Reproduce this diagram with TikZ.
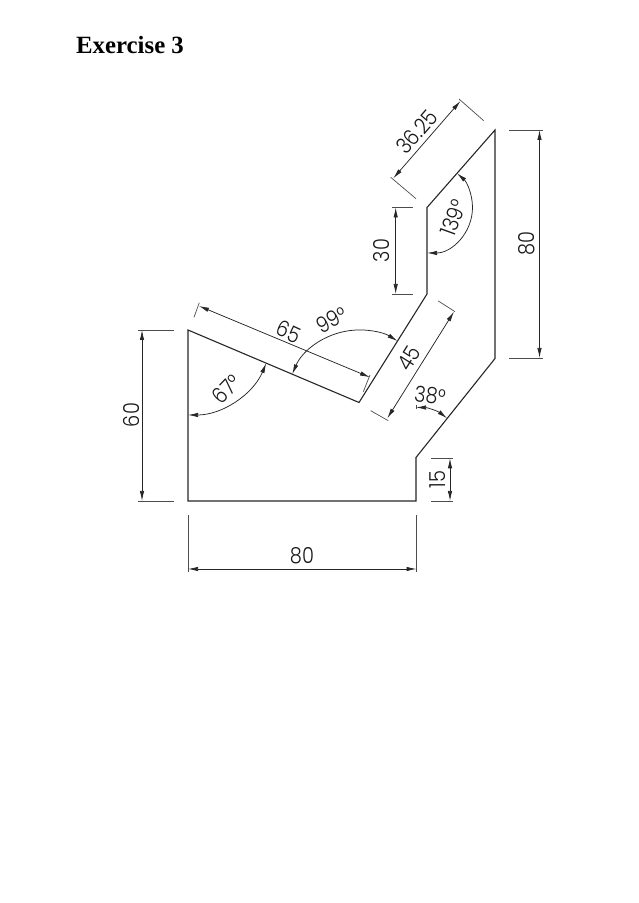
\documentclass[tikz,border=0pt]{standalone}
\usepackage{fontspec}
\setmainfont{Liberation Serif}
\newfontfamily\dimfont{Poppins}[UprightFont=* Light,FakeStretch=0.88]
\usetikzlibrary{calc,arrows.meta}

\begin{document}
\begin{tikzpicture}[x=1pt,y=1pt,
    part/.style={draw=black!85,line width=1.1pt,line join=miter},
    ext/.style={draw=black!70,line width=.7pt},
    dim/.style={draw=black!85,line width=.75pt,{Latex[length=10pt,width=4.4pt]}-{Latex[length=10pt,width=4.4pt]}},
    dimtext/.style={font=\dimfont\fontsize{22}{26}\selectfont,text=black!90,inner sep=0pt}]
    \useasboundingbox (0,0) rectangle (638,903);

    \node[font=\bfseries\fontsize{24.8}{30}\selectfont,anchor=base west,inner sep=0pt] (title) at (76,849.5) {Exercise 3};

    % outline
    \coordinate (a) at (188,573);
    \coordinate (b) at (188,402);
    \coordinate (c) at (416,402);
    \coordinate (d) at (416,445.5);
    \coordinate (e) at (495,544.5);
    \coordinate (f) at (495,773);
    \coordinate (g) at (427,695.5);
    \coordinate (h) at (427,609);
    \coordinate (i) at (359,500.5);
    \draw[part] (a) -- (b) -- (c) -- (d) -- (e) -- (f) -- (g) -- (h) -- (i) -- cycle;

    % height 60
    \coordinate (e1a) at (138,573);
    \coordinate (e1b) at (174,573);
    \coordinate (e2a) at (138,402);
    \coordinate (e2b) at (174,402);
    \coordinate (d1a) at (142,573);
    \coordinate (d1b) at (142,402);
    \draw[ext] (e1a) -- (e1b);
    \draw[ext] (e2a) -- (e2b);
    \draw[dim] (d1a) -- (d1b);
    \node[dimtext,rotate=90] (t60) at (131,488) {60};

    % height 80
    \coordinate (e3a) at (509,773);
    \coordinate (e3b) at (543,773);
    \coordinate (e4a) at (509,545);
    \coordinate (e4b) at (543,545);
    \coordinate (d2a) at (539.5,773);
    \coordinate (d2b) at (539.5,545);
    \draw[ext] (e3a) -- (e3b);
    \draw[ext] (e4a) -- (e4b);
    \draw[dim] (d2a) -- (d2b);
    \node[dimtext,rotate=90] (t80r) at (526.7,659) {80};

    % height 30
    \coordinate (e5a) at (392,695.5);
    \coordinate (e5b) at (413,695.5);
    \coordinate (e6a) at (392,609);
    \coordinate (e6b) at (413,609);
    \coordinate (d3a) at (395.7,695.5);
    \coordinate (d3b) at (395.7,609);
    \draw[ext] (e5a) -- (e5b);
    \draw[ext] (e6a) -- (e6b);
    \draw[dim] (d3a) -- (d3b);
    \node[dimtext,rotate=90] (t30) at (382,652.3) {30};

    % slanted 36.25
    \coordinate (e7a) at (390.7,725.7);
    \coordinate (e7b) at (416,704.3);
    \coordinate (e8a) at (459,804);
    \coordinate (e8b) at (483.7,782.3);
    \coordinate (d4a) at (393.3,724.7);
    \coordinate (d4b) at (460.5,802);
    \draw[ext] (e7a) -- (e7b);
    \draw[ext] (e8a) -- (e8b);
    \draw[dim] (d4a) -- (d4b);
    \node[dimtext,rotate=49] (t36) at (416.7,771.3) {36.25};

    % slanted 65
    \coordinate (e9a) at (199.3,600.3);
    \coordinate (e9b) at (194,585.7);
    \coordinate (e10a) at (370,528);
    \coordinate (e10b) at (363.3,511.3);
    \coordinate (d5a) at (199,597);
    \coordinate (d5b) at (370,525.7);
    \draw[ext] (e9a) -- (e9b);
    \draw[ext] (e10a) -- (e10b);
    \draw[dim] (d5a) -- (d5b);
    \node[dimtext,rotate=-25] (t65) at (289,571.3) {65};

    % slanted 45
    \coordinate (e11a) at (438.3,602);
    \coordinate (e11b) at (455,591.3);
    \coordinate (e12a) at (370.7,492.3);
    \coordinate (e12b) at (388.3,482.3);
    \coordinate (d6a) at (454,591.3);
    \coordinate (d6b) at (387.3,484.7);
    \draw[ext] (e11a) -- (e11b);
    \draw[ext] (e12a) -- (e12b);
    \draw[dim] (d6a) -- (d6b);
    \node[dimtext,rotate=58] (t45) at (409.3,544.7) {45};

    % height 15
    \coordinate (e13a) at (431,444.7);
    \coordinate (e13b) at (453,444.7);
    \coordinate (e14a) at (431,402);
    \coordinate (e14b) at (453,402);
    \coordinate (d7a) at (450,444.7);
    \coordinate (d7b) at (450,402);
    \draw[ext] (e13a) -- (e13b);
    \draw[ext] (e14a) -- (e14b);
    \draw[dim] (d7a) -- (d7b);
    \node[dimtext,rotate=90] (t15) at (437.3,423.7) {15};

    % width 80
    \coordinate (e15a) at (188,388);
    \coordinate (e15b) at (188,331.3);
    \coordinate (e16a) at (416.5,388);
    \coordinate (e16b) at (416.5,331.3);
    \coordinate (d8a) at (188,334);
    \coordinate (d8b) at (416.5,334);
    \draw[ext] (e15a) -- (e15b);
    \draw[ext] (e16a) -- (e16b);
    \draw[dim] (d8a) -- (d8b);
    \node[dimtext] (t80b) at (302,347.3) {80};

    % angles
    \draw[dim] ($(a)+(270:85)$) arc (270:337:85);
    \node[dimtext,rotate=46] (t67) at (226.7,513.7) {67°};
    \draw[dim] ($(i)+(157:72.5)$) arc (157:58:72.5);
    \node[dimtext,rotate=27] (t99) at (331.7,583) {99°};
    \draw[dim] ($(g)+(270:45.5)$) arc (270:408.7:45.5);
    \node[dimtext,rotate=70] (t139) at (453,685) {139°};
    \coordinate (e17a) at (416.7,498);
    \coordinate (e17b) at (416.7,493.7);
    \draw[ext] (e17a) -- (e17b);
    \draw[dim] ($(d)+(90:50)$) arc (90:51.6:50);
    \node[dimtext,rotate=-7] (t38) at (430,507.3) {38°};
\end{tikzpicture}
\end{document}
